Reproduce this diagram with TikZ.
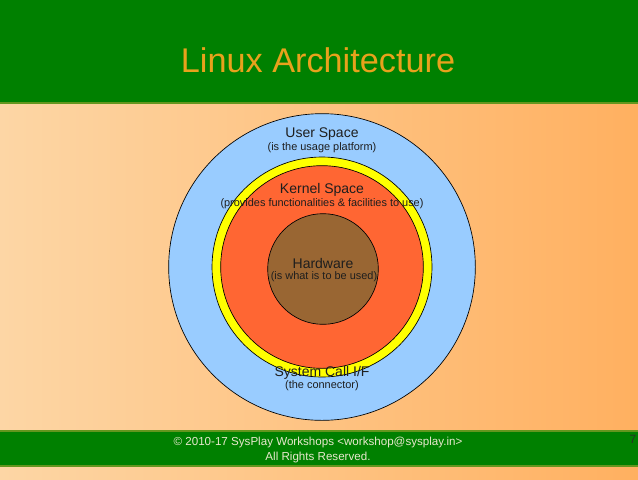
\documentclass[tikz,border=0pt]{standalone}
\usepackage{fontspec}
\setmainfont{Liberation Sans}
\definecolor{slidegreen}{RGB}{0,128,0}
\definecolor{bandedge}{RGB}{100,150,30}
\definecolor{peachL}{RGB}{253,214,165}
\definecolor{peachR}{RGB}{255,176,96}
\definecolor{titlegold}{RGB}{232,162,28}
\definecolor{footcream}{RGB}{232,232,205}
\definecolor{userblue}{RGB}{153,204,255}
\definecolor{sysyellow}{RGB}{255,255,0}
\definecolor{kernelorange}{RGB}{255,102,51}
\definecolor{hwbrown}{RGB}{153,102,51}
\definecolor{textgray}{RGB}{30,30,30}
\definecolor{pagegray}{RGB}{40,50,40}

\begin{document}
\begin{tikzpicture}[x=0.75pt, y=-0.75pt, every node/.style={inner sep=0pt, text=textgray}]
\tikzset{ring/.style={circle, draw=black, line width=0.5pt},
         lbl/.style={font=\fontsize{10.5}{12}\selectfont},
         sub/.style={font=\fontsize{8.2}{9.5}\selectfont}}
\useasboundingbox (0,0) rectangle (638,479);
% Draw background
\shade[left color=peachL, right color=peachR] (0,0) rectangle (638,479);
\fill[slidegreen] (0,0) rectangle (638,103);
\draw[bandedge, line width=0.8pt] (0,103) -- (638,103);
\fill[slidegreen] (0,431) rectangle (638,466);
\draw[bandedge, line width=0.8pt] (0,431) -- (638,431);
\draw[bandedge, line width=0.8pt] (0,466) -- (638,466);
% Draw title
\node[text=titlegold, font=\fontsize{25.7}{30}\selectfont] (title) at (318,60) {Linux Architecture};
% Draw rings
\node[ring, fill=userblue, minimum size=230pt] (user) at (322,267) {};
\node[ring, fill=sysyellow, minimum size=165pt] (syscall) at (322,267) {};
\node[ring, fill=kernelorange, minimum size=152pt] (kernel) at (322,267) {};
\node[ring, fill=hwbrown, minimum size=83pt] (hw) at (323,269) {};
% Draw labels
\node[lbl] (userlbl) at (322,134) {User Space};
\node[sub] (usersub) at (322,148) {(is the usage platform)};
\node[lbl] (kernellbl) at (322,190) {Kernel Space};
\node[sub] (kernelsub) at (322,204) {(provides functionalities \& facilities to use)};
\node[lbl] (hwlbl) at (323,263) {Hardware};
\node[sub] (hwsub) at (324,277) {(is what is to be used)};
\node[lbl] (syslbl) at (322,373) {System Call I/F};
\node[sub] (syssub) at (322,386) {(the connector)};
% Draw footer
\node[text=footcream, font=\fontsize{8.7}{10}\selectfont] (copy) at (318,442) {\textcopyright{} 2010-17 SysPlay Workshops <workshop@sysplay.in>};
\node[text=footcream, font=\fontsize{8.7}{10}\selectfont] (rights) at (318,457) {All Rights Reserved.};
\node[anchor=east, text=pagegray, font=\fontsize{9}{10}\selectfont] (page) at (636.5,439) {7};
\end{tikzpicture}
\end{document}
